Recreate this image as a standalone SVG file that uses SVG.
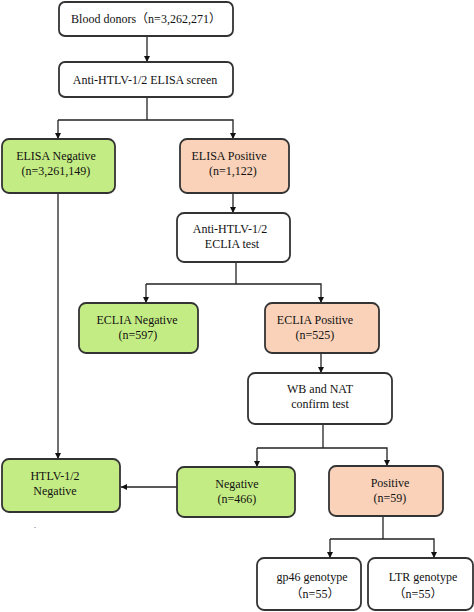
<svg xmlns="http://www.w3.org/2000/svg" width="474" height="612" viewBox="0 0 474 612">
<defs>
<style>
.box{stroke:#333;stroke-width:1.8}
.w{fill:#fff}
.g{fill:#c4ec84}
.o{fill:#f9d2b9}
text{font-family:"Liberation Serif","Noto Sans CJK SC",serif;font-size:12px;fill:#111;text-anchor:middle}
.c line,.c polyline{stroke:#222;stroke-width:1.3;fill:none}
</style>
<marker id="ah" viewBox="0 0 10 10" refX="10" refY="5" markerWidth="6" markerHeight="6" orient="auto" markerUnits="userSpaceOnUse">
<path d="M0,0 L10,5 L0,10 z" fill="#111"/>
</marker>
</defs>
<rect width="474" height="612" fill="#fff"/>
<g class="c" id="connectors">
<line x1="147" y1="36" x2="147" y2="62" marker-end="url(#ah)"/>
<polyline points="147,97 147,120"/>
<polyline points="58,120 233,120 233,139" marker-end="url(#ah)"/>
<line x1="58" y1="120" x2="58" y2="139" marker-end="url(#ah)"/>
<line x1="233" y1="193" x2="233" y2="213" marker-end="url(#ah)"/>
<polyline points="236,262 236,284"/>
<line x1="146" y1="284" x2="146" y2="303" marker-end="url(#ah)"/>
<polyline points="146,284 321,284 321,303" marker-end="url(#ah)"/>
<line x1="321" y1="353" x2="321" y2="373" marker-end="url(#ah)"/>
<polyline points="323,424 323,448"/>
<line x1="257" y1="448" x2="257" y2="467" marker-end="url(#ah)"/>
<polyline points="257,448 387,448 387,466" marker-end="url(#ah)"/>
<line x1="58" y1="193" x2="58" y2="459" marker-end="url(#ah)"/>
<line x1="177" y1="487" x2="121" y2="487" marker-end="url(#ah)"/>
<polyline points="383,516 383,539"/>
<line x1="330" y1="539" x2="330" y2="558" marker-end="url(#ah)"/>
<polyline points="330,539 434,539 434,558" marker-end="url(#ah)"/>
</g>
<g id="blood-donors">
<rect class="box w" x="59" y="2" width="174" height="34" rx="6"/>
<text x="146" y="23">Blood donors（n=3,262,271）</text>
</g>
<g id="elisa-screen">
<rect class="box w" x="59" y="62" width="174" height="35" rx="6"/>
<text x="145" y="84">Anti-HTLV-1/2 ELISA screen</text>
</g>
<g id="elisa-negative">
<rect class="box g" x="2" y="139" width="113" height="54" rx="7"/>
<text x="56" y="160">ELISA Negative</text>
<text x="56" y="175">(n=3,261,149)</text>
</g>
<g id="elisa-positive">
<rect class="box o" x="180" y="139" width="109" height="54" rx="7"/>
<text x="229" y="160">ELISA Positive</text>
<text x="233" y="175">(n=1,122)</text>
</g>
<g id="eclia-test">
<rect class="box w" x="177" y="213" width="113" height="49" rx="7"/>
<text x="230" y="233">Anti-HTLV-1/2</text>
<text x="232" y="248">ECLIA test</text>
</g>
<g id="eclia-negative">
<rect class="box g" x="79" y="303" width="119" height="50" rx="7"/>
<text x="137" y="324">ECLIA  Negative</text>
<text x="138" y="339">(n=597)</text>
</g>
<g id="eclia-positive">
<rect class="box o" x="265" y="303" width="114" height="50" rx="7"/>
<text x="315" y="324">ECLIA Positive</text>
<text x="315" y="339">(n=525)</text>
</g>
<g id="wb-nat">
<rect class="box w" x="248" y="373" width="144" height="51" rx="7"/>
<text x="320" y="393">WB and NAT</text>
<text x="320" y="408">confirm test</text>
</g>
<g id="htlv-negative">
<rect class="box g" x="2" y="459" width="118" height="53" rx="7"/>
<text x="55" y="480">HTLV-1/2</text>
<text x="55" y="495">Negative</text>
</g>
<g id="negative">
<rect class="box g" x="177" y="467" width="118" height="50" rx="7"/>
<text x="237" y="488">Negative</text>
<text x="237" y="503">(n=466)</text>
</g>
<g id="positive">
<rect class="box o" x="329" y="466" width="114" height="50" rx="7"/>
<text x="390" y="487">Positive</text>
<text x="390" y="502">(n=59)</text>
</g>
<g id="gp46">
<rect class="box w" x="257" y="558" width="104" height="52" rx="7"/>
<text x="312" y="581">gp46 genotype</text>
<text x="315" y="598">（n=55）</text>
</g>
<g id="ltr">
<rect class="box w" x="368" y="558" width="105" height="52" rx="7"/>
<text x="423" y="581">LTR genotype</text>
<text x="418" y="598">（n=55）</text>
</g>
<text x="35" y="528" style="font-size:8px">.</text>
</svg>
